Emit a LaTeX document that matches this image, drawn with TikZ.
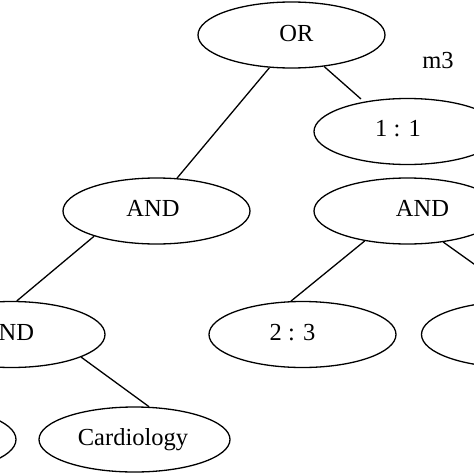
\documentclass[tikz,border=0pt]{standalone}
\usepackage{fontspec}
\setmainfont{Liberation Serif}
\usetikzlibrary{shapes.geometric}
\begin{document}
\begin{tikzpicture}[x=1pt,y=-1pt,
  ell/.style={draw, line width=1.3pt, ellipse, inner sep=0pt, minimum width=187pt, minimum height=66pt},
  txt/.style={anchor=base, inner sep=0pt, font=\fontsize{24.5}{26}\selectfont},
  conn/.style={line width=1.3pt}]
\useasboundingbox (0,0) rectangle (474,474);
\clip (0,0) rectangle (474,474);
% ellipses
\node[ell] (or)   at (291.5,35) {};
\node[ell] (one)  at (407.5,131.5) {};
\node[ell] (and1) at (156.5,211) {};
\node[ell] (and2) at (407.5,211) {};
\node[ell] (and3) at (11.5,334.5) {};
\node[ell] (two)  at (302.5,334.5) {};
\node[ell] (rgt)  at (515,334.5) {};
\node[ell] (lft)  at (-77.5,439.5) {};
\node[ell, minimum width=191pt, minimum height=65pt] (card) at (134.5,439.5) {};
\coordinate (offr) at (502,284);
\coordinate (oneend) at (361,99);
% texts
\node[txt] (tor)   at (296.5,41.7) {OR};
\node[txt] (tone)  at (398,136.7) {1 : 1};
\node[txt] (tand1) at (153,216.7) {AND};
\node[txt] (tand2) at (422.5,216.7) {AND};
\node[txt] (tand3) at (7.5,340.3) {AND};
\node[txt] (ttwo)  at (292.5,340.3) {2 : 3};
\node[txt] (tcard) at (133,445.3) {Cardiology};
\node[txt] (m3)    at (438,68.3) {m3};
% connectors
\draw[conn] (or.236.9) -- (and1.58.2);
\draw[conn] (or.316.3) -- (oneend);
\draw[conn] (and1.202.8) -- (and3.81);
\draw[conn] (and2.215.4) -- (two.109);
\draw[conn] (and2.319.4) -- (offr);
\draw[conn] (and3.342.2) -- (card.66);
\draw[conn] (and3) -- (lft);
\end{tikzpicture}
\end{document}
